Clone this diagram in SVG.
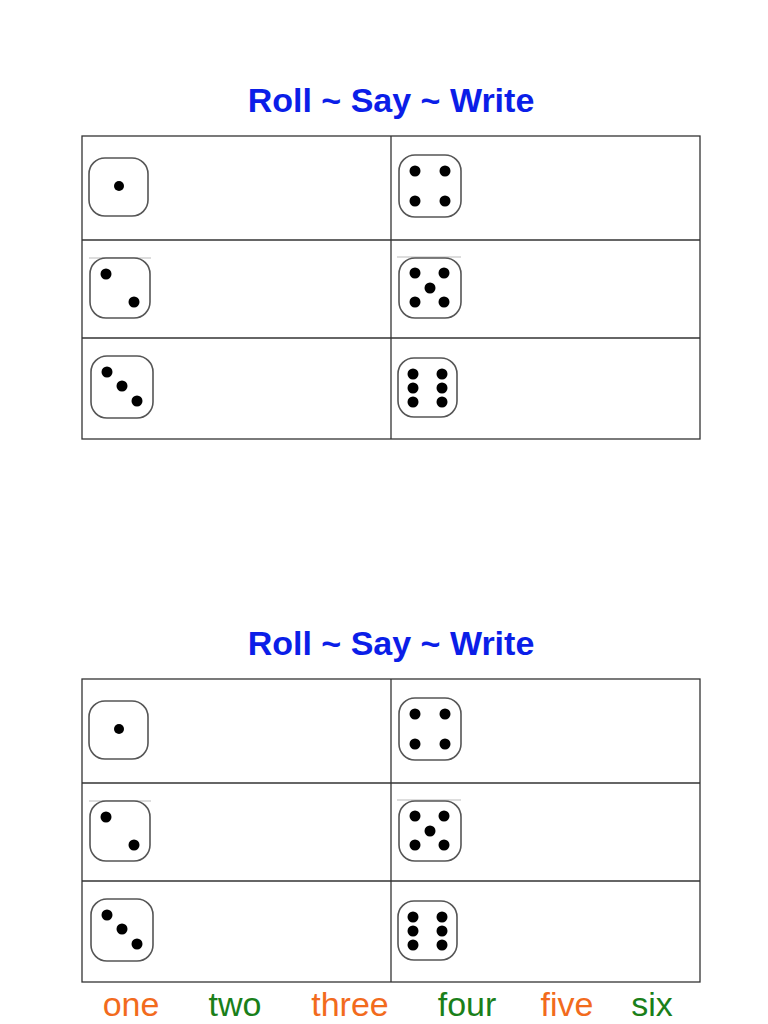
<svg xmlns="http://www.w3.org/2000/svg" xmlns:xlink="http://www.w3.org/1999/xlink" width="768" height="1024" viewBox="0 0 768 1024">
<style>
.t{font-family:"Liberation Sans",Arial,sans-serif;font-weight:bold;font-size:34px;fill:#0b1ee8;text-anchor:middle}
.g{fill:none;stroke:#333;stroke-width:1.3}
.d{fill:#fff;stroke:#555;stroke-width:1.6}
.p{fill:#000}
.w{font-family:"Liberation Sans",Arial,sans-serif;font-size:34px;text-anchor:middle}
.o{fill:#f26b1d}.n{fill:#1a7f1a}
.hl{stroke:#bbb;stroke-width:1}
</style>
<rect width="768" height="1024" fill="#fff"/>
<defs>
<g id="sheet">
<rect class="g" x="82" y="136" width="618" height="303"/>
<line class="g" x1="82" y1="240" x2="700" y2="240"/>
<line class="g" x1="82" y1="338" x2="700" y2="338"/>
<line class="g" x1="391" y1="136" x2="391" y2="439"/>
<g id="die1"><rect class="d" x="89" y="158" width="59" height="58" rx="16"/><circle class="p" cx="119" cy="186" r="5"/></g>
<g id="die4"><rect class="d" x="399" y="155" width="62" height="62" rx="16"/><circle class="p" cx="415" cy="171" r="5.5"/><circle class="p" cx="445" cy="171" r="5.5"/><circle class="p" cx="415" cy="201" r="5.5"/><circle class="p" cx="445" cy="201" r="5.5"/></g>
<g id="die2"><line class="hl" x1="89" y1="258" x2="151" y2="258"/><rect class="d" x="90" y="258" width="60" height="60" rx="16"/><circle class="p" cx="106" cy="274" r="5.5"/><circle class="p" cx="134" cy="302" r="5.5"/></g>
<g id="die5"><line class="hl" x1="397" y1="257" x2="461" y2="257"/><rect class="d" x="399" y="258" width="62" height="60" rx="16"/><circle class="p" cx="415" cy="273" r="5.5"/><circle class="p" cx="444" cy="273" r="5.5"/><circle class="p" cx="430" cy="288" r="5.5"/><circle class="p" cx="415" cy="302" r="5.5"/><circle class="p" cx="444" cy="302" r="5.5"/></g>
<g id="die3"><rect class="d" x="91" y="356" width="62" height="62" rx="16"/><circle class="p" cx="107" cy="372" r="5.5"/><circle class="p" cx="122" cy="386" r="5.5"/><circle class="p" cx="137" cy="401" r="5.5"/></g>
<g id="die6"><rect class="d" x="398" y="358" width="59" height="59" rx="16"/><circle class="p" cx="413" cy="374" r="5.5"/><circle class="p" cx="442" cy="374" r="5.5"/><circle class="p" cx="413" cy="388" r="5.5"/><circle class="p" cx="442" cy="388" r="5.5"/><circle class="p" cx="413" cy="402" r="5.5"/><circle class="p" cx="442" cy="402" r="5.5"/></g>
</g>
</defs>
<text class="t" x="391" y="112">Roll ~ Say ~ Write</text>
<use xlink:href="#sheet"/>
<text class="t" x="391" y="655">Roll ~ Say ~ Write</text>
<use xlink:href="#sheet" y="543"/>
<g id="words">
<text class="w o" x="131" y="1016">one</text>
<text class="w n" x="235" y="1016">two</text>
<text class="w o" x="350" y="1016">three</text>
<text class="w n" x="467" y="1016">four</text>
<text class="w o" x="567" y="1016">five</text>
<text class="w n" x="652" y="1016">six</text>
</g>
</svg>
